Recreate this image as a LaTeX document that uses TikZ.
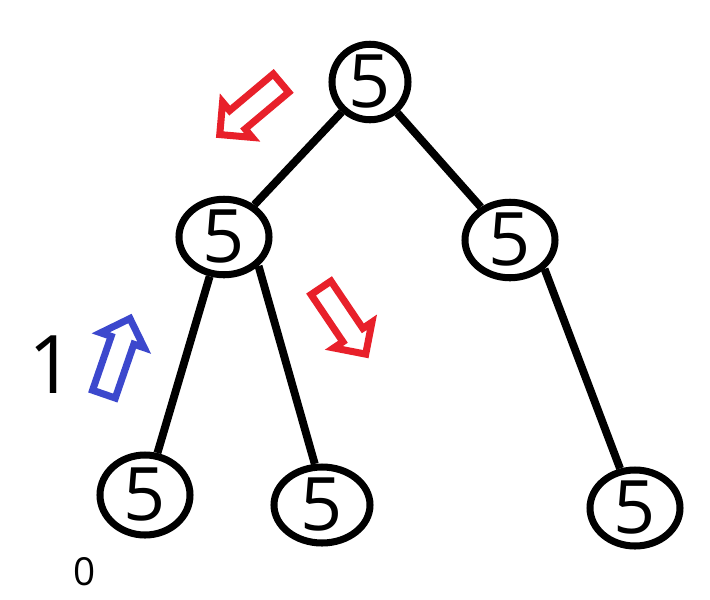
\documentclass[tikz,border=0pt]{standalone}
\usepackage{fontspec}
\setmainfont{Open Sans}
\usetikzlibrary{shapes.geometric,shapes.arrows}
\definecolor{hintred}{RGB}{232,32,42}
\definecolor{hintblue}{RGB}{60,72,205}
\tikzset{
    vertex/.style={ellipse,draw,line width=4pt,inner sep=0pt,
        font=\fontsize{42}{46}\selectfont},
    edge/.style={line width=4.5pt},
    hint/.style={single arrow,draw,line width=4pt,inner sep=0.17cm,
        minimum height=1.6cm,single arrow head extend=0.22cm},
}
\begin{document}
\begin{tikzpicture}[x=0.02cm,y=-0.02cm]
        \useasboundingbox (0,0) rectangle (710,599);
        \node[vertex,minimum width=76*0.02cm,minimum height=70*0.02cm] (top) at (370,82) {5};
        \node[vertex,minimum width=90*0.02cm,minimum height=74*0.02cm] (l) at (224,237) {5};
        \node[vertex,minimum width=90*0.02cm,minimum height=74*0.02cm] (r) at (510,240) {5};
        \node[vertex,minimum width=90*0.02cm,minimum height=80*0.02cm] (ll) at (145,495) {5};
        \node[vertex,minimum width=96*0.02cm,minimum height=76*0.02cm] (lr) at (322,505) {5};
        \node[vertex,minimum width=90*0.02cm,minimum height=76*0.02cm] (rr) at (635,508) {5};
        \draw[edge] (top) -- (l);
        \draw[edge] (top) -- (r);
        \draw[edge] (l.-110) -- (ll);
        \draw[edge] (l.-40) -- (lr.100);
        \draw[edge] (r.-40) -- (rr);
        % hints
        \node[hint,draw=hintred,rotate=220] (down1) at (255,105) {};
        \node[hint,draw=hintred,rotate=-56] (down2) at (340,316) {};
        \node[hint,draw=hintblue,rotate=71] (up1) at (115,362) {};
        \node[font=\fontsize{46}{50}\selectfont] (cnt) at (52,365) {1};
        \node[font=\fontsize{22}{26}\selectfont] (lvl) at (85,572) {0};
\end{tikzpicture}
\end{document}
